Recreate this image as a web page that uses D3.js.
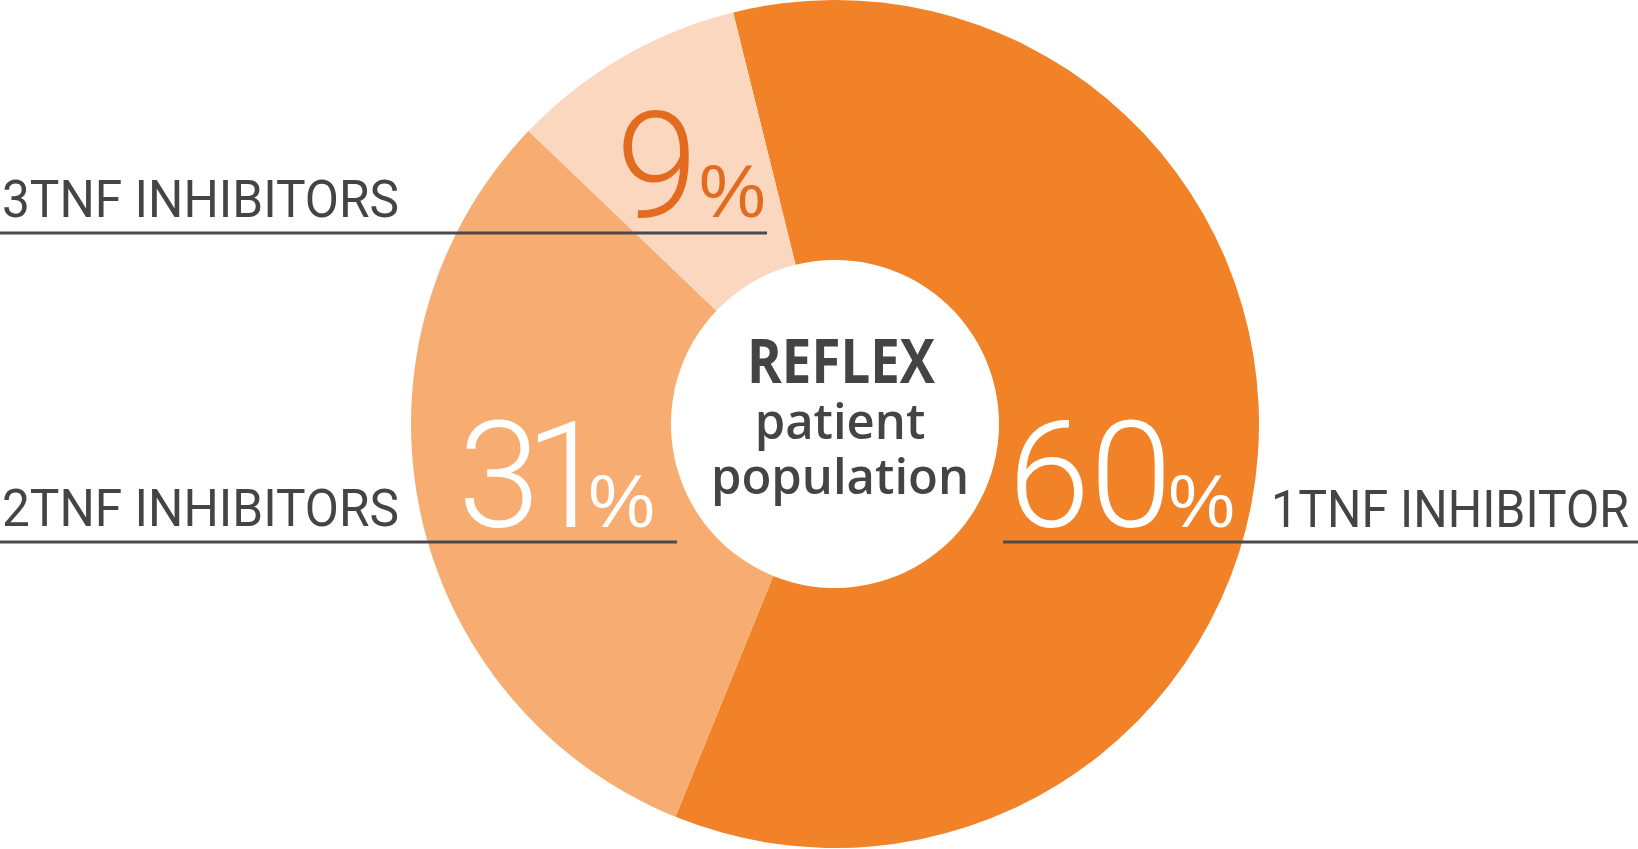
<!DOCTYPE html>
<html>
<head>
<meta charset="utf-8">
<script src="https://cdn.jsdelivr.net/npm/d3@7"></script>
<style>
  html, body { margin: 0; padding: 0; background: #ffffff; }
  svg { display: block; }
</style>
</head>
<body>
<svg id="chart" width="1638" height="849"></svg>
<script>
// ---- data ----
const categories = ["1TNF INHIBITOR", "2TNF INHIBITORS", "3TNF INHIBITORS"];
const values = [60, 31, 9];
const valueLabels = ["60", "31", "9"];
const centerTitle = "REFLEX";
const centerLines = ["patient", "population"];

// ---- styles / layout ----
const sliceColors = ["#F28227", "#F7AD72", "#FAD7BE"];
const numberColors = ["#FFFFFF", "#FFFFFF", "#E26B1F"];
const textGray = "#444446";
const lineGray = "#4B4B4D";

const W = 1638, H = 849;
const cx = 835, cy = 424, R = 424, r = 164;
const startDeg = -13.9;

const svg = d3.select("#chart");

const pie = d3.pie().sort(null).value(d => d)
  .startAngle(startDeg * Math.PI / 180)
  .endAngle((startDeg + 360) * Math.PI / 180);
const arcs = pie(values);
const arc = d3.arc().innerRadius(r).outerRadius(R);

const g = svg.append("g").attr("transform", `translate(${cx},${cy})`);
g.selectAll("path.slice").data(arcs).enter().append("path")
  .attr("class", "slice")
  .attr("d", arc)
  .attr("fill", (d, i) => sliceColors[i]);

// ---- category labels with underline rules ----
const catLayout = [
  { x: 1271, y: 527, w: 358, lineX1: 1003, lineX2: 1638, lineY: 542 },
  { x: 2, y: 526, w: 397, lineX1: 0, lineX2: 677, lineY: 542 },
  { x: 2, y: 217, w: 397, lineX1: 0, lineX2: 767, lineY: 233 }
];
categories.forEach((c, i) => {
  const L = catLayout[i];
  svg.append("line")
    .attr("x1", L.lineX1).attr("x2", L.lineX2)
    .attr("y1", L.lineY).attr("y2", L.lineY)
    .attr("stroke", lineGray).attr("stroke-width", 3);
  svg.append("text")
    .attr("x", L.x).attr("y", L.y)
    .attr("font-family", "Roboto, 'Liberation Sans', sans-serif")
    .attr("font-weight", 400)
    .attr("font-size", 51)
    .attr("fill", textGray)
    .attr("textLength", L.w)
    .attr("lengthAdjust", "spacingAndGlyphs")
    .text(c);
});

// ---- percentage labels ----
const numLayout = [
  { x: 1008, y: 527, ls: 0, pdx: -4 },
  { x: 458, y: 527, ls: -15, pdx: -4 },
  { x: 616, y: 217, ls: 0, pdx: 1 }
];
valueLabels.forEach((v, i) => {
  const L = numLayout[i];
  const t = svg.append("text")
    .attr("x", L.x).attr("y", L.y)
    .attr("fill", numberColors[i]);
  t.append("tspan")
    .attr("font-family", "Roboto, 'Liberation Sans', sans-serif")
    .attr("font-weight", 300)
    .attr("font-size", 148)
    .attr("letter-spacing", L.ls)
    .text(v);
  t.append("tspan")
    .attr("font-family", "'Liberation Sans', Arial, sans-serif")
    .attr("font-weight", 400)
    .attr("font-size", 75)
    .attr("dx", L.pdx)
    .text("%");
});

// ---- center text ----
svg.append("text")
  .attr("x", 841).attr("y", 383)
  .attr("text-anchor", "middle")
  .attr("font-family", "'Open Sans', 'Noto Sans', sans-serif")
  .attr("font-weight", 700)
  .attr("font-size", 60)
  .attr("fill", textGray)
  .attr("textLength", 188)
  .attr("lengthAdjust", "spacingAndGlyphs")
  .text(centerTitle);
const centerLayout = [ { y: 439 }, { y: 494 } ];
centerLines.forEach((t, i) => {
  svg.append("text")
    .attr("x", 840).attr("y", centerLayout[i].y)
    .attr("text-anchor", "middle")
    .attr("font-family", "'Open Sans', 'Noto Sans', sans-serif")
    .attr("font-weight", 600)
    .attr("font-size", 49)
    .attr("fill", textGray)
    .text(t);
});
</script>
</body>
</html>
